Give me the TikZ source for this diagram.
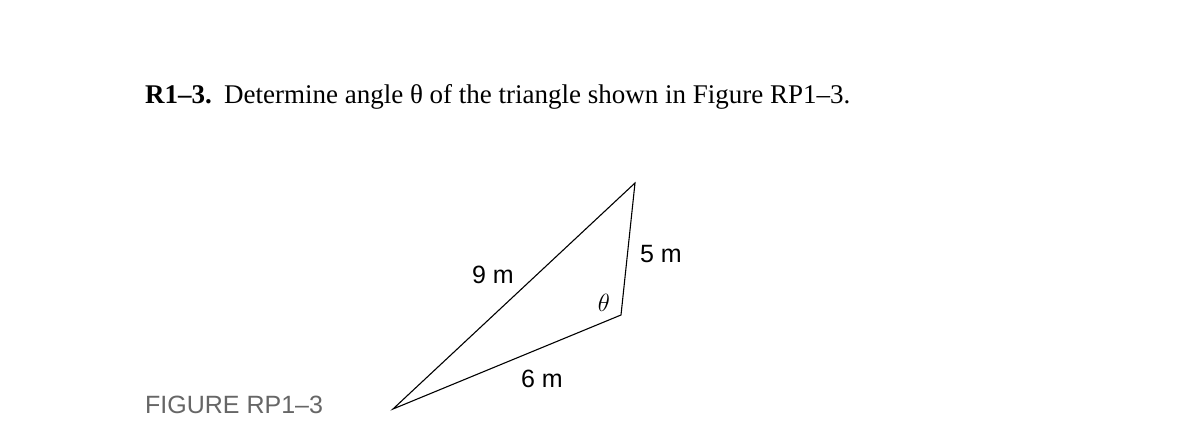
\documentclass[tikz,border=0pt]{standalone}
\usepackage{fontspec}
\setmainfont{Liberation Serif}
\setsansfont{Liberation Sans}
\begin{document}
\begin{tikzpicture}[x=1pt,y=-1pt,
    lbl/.style={font=\sffamily\fontsize{25}{25}\selectfont, inner sep=0pt}]
  \useasboundingbox (0,0) rectangle (1179,441);
  % problem statement
  \node[anchor=base west, inner sep=0pt, font=\fontsize{27}{27}\selectfont] (title) at (145,104)
    {\textbf{R1–3.}\hspace{0.45em}Determine angle θ of the triangle shown in Figure RP1–3.};
  % triangle
  \coordinate (A) at (393,409);
  \coordinate (B) at (635,183);
  \coordinate (C) at (621,315);
  \draw[line width=1.1pt] (A) -- (B) -- (C) -- cycle;
  \node[lbl] (nine) at (493,275) {9 m};
  \node[lbl] (five) at (661,254) {5 m};
  \node[lbl] (six) at (542,379) {6 m};
  \node[inner sep=0pt, font=\fontsize{24}{24}\selectfont] (theta) at (604,303) {$\theta$};
  % caption
  \node[anchor=base west, inner sep=0pt, text=black!60, font=\sffamily\fontsize{25}{25}\selectfont] (fig) at (145,413) {FIGURE RP1–3};
\end{tikzpicture}
\end{document}
